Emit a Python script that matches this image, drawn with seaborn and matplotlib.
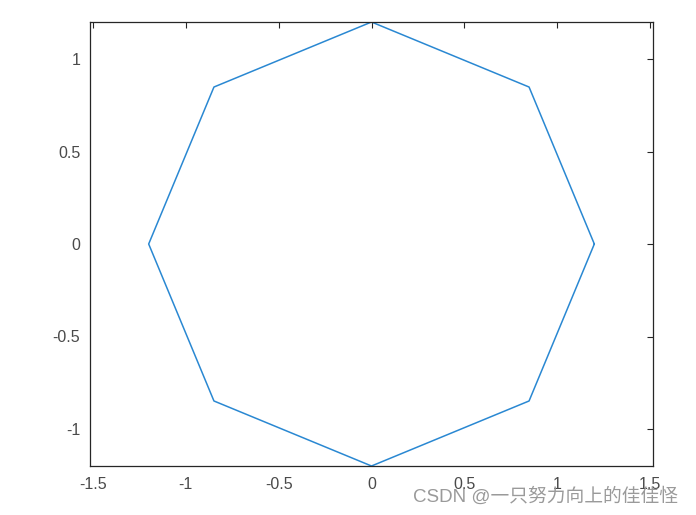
import numpy as np
import pandas as pd
import matplotlib
matplotlib.use("Agg")
import matplotlib.pyplot as plt
import seaborn as sns

# octagon vertices (radius 1.2), closed path
x_pts = [1.2, 0.8485, 0.0, -0.8485, -1.2, -0.8485, 0.0, 0.8485, 1.2]
y_pts = [0.0, 0.8485, 1.2, 0.8485, 0.0, -0.8485, -1.2, -0.8485, 0.0]
x_ticks = [-1.5, -1, -0.5, 0, 0.5, 1, 1.5]
x_tick_labels = ["-1.5", "-1", "-0.5", "0", "0.5", "1", "1.5"]
y_ticks = [-1, -0.5, 0, 0.5, 1]
y_tick_labels = ["-1", "-0.5", "0", "0.5", "1"]

df = pd.DataFrame({"x": x_pts, "y": y_pts, "order": range(len(x_pts))})

sns.set_style("white")
plt.rcParams['font.family'] = ['Liberation Sans', 'DejaVu Sans']

fig = plt.figure(figsize=(6.96, 5.15), dpi=100)
ax = fig.add_axes([90 / 696, 1 - 466 / 515, (653 - 90) / 696, (466 - 22) / 515])

sns.lineplot(data=df, x="x", y="y", sort=False, estimator=None,
             color="#2a88d2", linewidth=1.1, ax=ax)

ax.set_xlim(-1.516, 1.516)
ax.set_ylim(-1.2, 1.2)
ax.set_xticks(x_ticks)
ax.set_xticklabels(x_tick_labels)
ax.set_yticks(y_ticks)
ax.set_yticklabels(y_tick_labels)
ax.set_xlabel("")
ax.set_ylabel("")
ax.tick_params(direction="in", length=4, width=0.8, color="#262626",
               labelcolor="#4a4a4a", labelsize=11.5, top=True, right=True, pad=7)
ax.tick_params(axis="x", pad=8)
for s in ax.spines.values():
    s.set_color("#262626")
    s.set_linewidth(0.9)

fig.text(0.9745, 1 - 497 / 515, "CSDN @一只努力向上的佳佳怪", ha="right", va="center",
         fontsize=13.5, color="#9a9a9a",
         family=['Liberation Sans', 'Noto Sans CJK SC', 'DejaVu Sans'])

fig.savefig("out.png", dpi=100)
